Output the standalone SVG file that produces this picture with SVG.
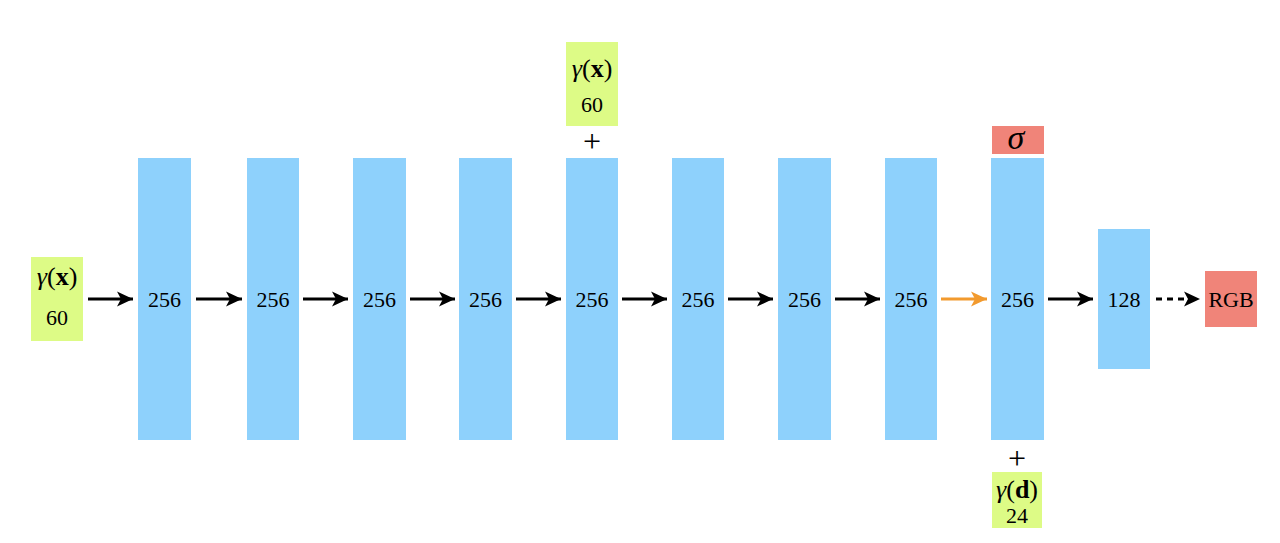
<svg xmlns="http://www.w3.org/2000/svg" width="1280" height="543" viewBox="0 0 1280 543">
<style>
.bar{fill:#8ED1FC}
.in{fill:#DDFB86}
.out{fill:#F08479}
text{font-family:"Liberation Serif","DejaVu Serif",serif;fill:#000;text-anchor:middle}
.lbl{font-size:22px}
.g{font-size:26px}
.p{font-size:32px}
.a{stroke:#000;stroke-width:3;fill:none}
</style>
<defs>
<marker id="ah" markerUnits="userSpaceOnUse" markerWidth="18" markerHeight="18" refX="16" refY="9" orient="auto">
<path d="M0,1.5 L16,9 L0,16.5 L4,9 Z" fill="#000"/>
</marker>
<marker id="aho" markerUnits="userSpaceOnUse" markerWidth="18" markerHeight="18" refX="16" refY="9" orient="auto">
<path d="M0,1.5 L16,9 L0,16.5 L4,9 Z" fill="#F29A2E"/>
</marker>
</defs>
<rect width="1280" height="543" fill="#fff"/>
<g id="input-x">
<rect class="in" x="31" y="257" width="52" height="84"/>
<text class="g" x="57" y="285"><tspan font-style="italic">γ</tspan>(<tspan font-weight="bold">x</tspan>)</text>
<text class="lbl" x="57" y="325">60</text>
</g>
<g id="skip-x">
<rect class="in" x="566" y="42" width="52" height="84"/>
<text class="g" x="592" y="77"><tspan font-style="italic">γ</tspan>(<tspan font-weight="bold">x</tspan>)</text>
<text class="lbl" x="592" y="112">60</text>
<text class="p" x="592" y="152">+</text>
</g>
<g id="layer1"><rect class="bar" x="138" y="158" width="53" height="282"/><text class="lbl" x="164.5" y="307">256</text></g>
<g id="layer2"><rect class="bar" x="247" y="158" width="52" height="282"/><text class="lbl" x="273" y="307">256</text></g>
<g id="layer3"><rect class="bar" x="353" y="158" width="53" height="282"/><text class="lbl" x="379.5" y="307">256</text></g>
<g id="layer4"><rect class="bar" x="459" y="158" width="53" height="282"/><text class="lbl" x="485.5" y="307">256</text></g>
<g id="layer5"><rect class="bar" x="566" y="158" width="52" height="282"/><text class="lbl" x="592" y="307">256</text></g>
<g id="layer6"><rect class="bar" x="672" y="158" width="52" height="282"/><text class="lbl" x="698" y="307">256</text></g>
<g id="layer7"><rect class="bar" x="778" y="158" width="53" height="282"/><text class="lbl" x="804.5" y="307">256</text></g>
<g id="layer8"><rect class="bar" x="885" y="158" width="52" height="282"/><text class="lbl" x="911" y="307">256</text></g>
<g id="layer9"><rect class="bar" x="991" y="158" width="53" height="282"/><text class="lbl" x="1017.5" y="307">256</text></g>
<g id="sigma">
<rect class="out" x="992" y="126" width="52" height="28"/>
<text x="1016" y="149" font-size="34" font-style="italic">σ</text>
</g>
<g id="skip-d">
<text class="p" x="1017" y="469">+</text>
<rect class="in" x="992" y="472" width="50" height="56"/>
<text class="g" x="1017" y="498"><tspan font-style="italic">γ</tspan>(<tspan font-weight="bold">d</tspan>)</text>
<text class="lbl" x="1017" y="523">24</text>
</g>
<g id="layer10"><rect class="bar" x="1098" y="229" width="52" height="140"/><text class="lbl" x="1124" y="307">128</text></g>
<g id="rgb"><rect class="out" x="1205" y="271" width="52" height="56"/><text class="lbl" x="1231" y="307">RGB</text></g>
<g id="connectors">
<line class="a" x1="88" y1="299" x2="133" y2="299" marker-end="url(#ah)"/>
<line class="a" x1="196" y1="299" x2="242" y2="299" marker-end="url(#ah)"/>
<line class="a" x1="303" y1="299" x2="348" y2="299" marker-end="url(#ah)"/>
<line class="a" x1="410" y1="299" x2="455" y2="299" marker-end="url(#ah)"/>
<line class="a" x1="516" y1="299" x2="561" y2="299" marker-end="url(#ah)"/>
<line class="a" x1="622" y1="299" x2="667" y2="299" marker-end="url(#ah)"/>
<line class="a" x1="728" y1="299" x2="773" y2="299" marker-end="url(#ah)"/>
<line class="a" x1="835" y1="299" x2="880" y2="299" marker-end="url(#ah)"/>
<line x1="941" y1="299" x2="987" y2="299" stroke="#F29A2E" stroke-width="3" marker-end="url(#aho)"/>
<line class="a" x1="1048" y1="299" x2="1093" y2="299" marker-end="url(#ah)"/>
<line class="a" x1="1156" y1="299" x2="1200" y2="299" stroke-dasharray="6,5" marker-end="url(#ah)"/>
</g>
</svg>
